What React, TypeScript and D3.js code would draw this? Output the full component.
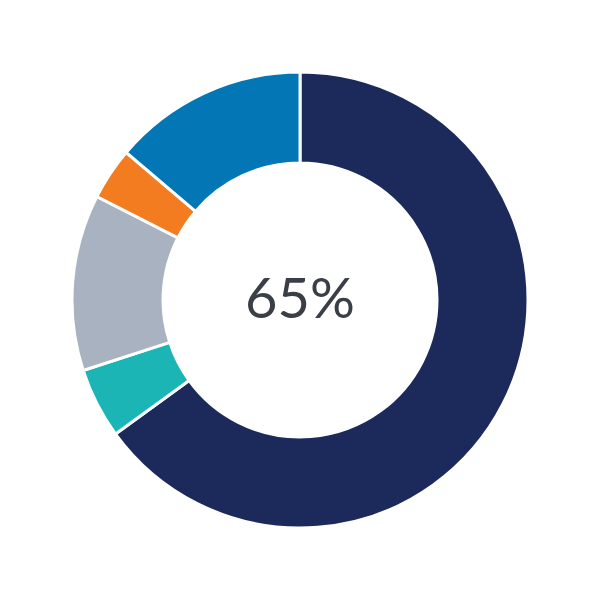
import { useEffect, useRef } from "react";
import * as d3 from "d3";

const labels = ["Navy", "Teal", "Gray", "Orange", "Blue"];
const values = [65, 5, 12.5, 3.7, 13.8];
const colors = ["#1b2a5a", "#1bb5b6", "#a8b2c1", "#f37b20", "#0376b5"];
const centerLabel = "65%";

export default function App() {
  const svgRef = useRef<SVGSVGElement>(null);

  useEffect(() => {
    const width = 600;
    const height = 600;
    const svg = d3.select(svgRef.current).attr("width", width).attr("height", height);
    svg.selectAll("*").remove();

    const g = svg.append("g").attr("transform", `translate(${width / 2}, ${height / 2})`);

    // pie layout keeps the data order, clockwise from 12 o'clock
    const pie = d3.pie<number>().sort(null).value((d) => d);
    const arc = d3.arc<d3.PieArcDatum<number>>().innerRadius(137).outerRadius(228);

    g.selectAll("path")
      .data(pie(values))
      .join("path")
      .attr("d", arc)
      .attr("fill", (_, i) => colors[i])
      .attr("stroke", "#ffffff")
      .attr("stroke-width", 3)
      .append("title")
      .text((_, i) => labels[i]);

    g.append("text")
      .attr("text-anchor", "middle")
      .attr("y", 18)
      .attr("font-family", "Lato, sans-serif")
      .attr("font-weight", 400)
      .attr("font-size", 56)
      .attr("fill", "#3a3f47")
      .text(centerLabel);
  }, []);

  return (
    <div style={{ position: "fixed", left: 0, top: 0, width: 600, height: 600, background: "#fff" }}>
      <svg ref={svgRef}></svg>
    </div>
  );
}
